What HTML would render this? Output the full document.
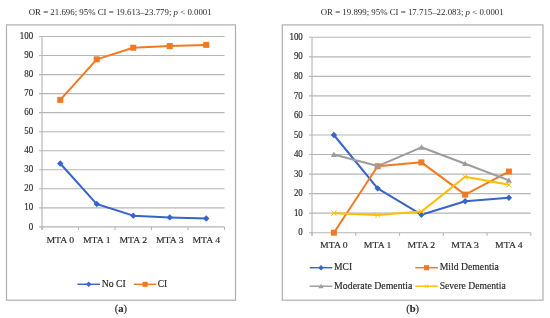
<!DOCTYPE html>
<html><head><meta charset="utf-8"><title>Figure</title>
<style>html,body{margin:0;padding:0;background:#fff;width:550px;height:318px;overflow:hidden}</style>
</head><body>
<svg width="550" height="318" viewBox="0 0 550 318" style="display:block">
<g font-family='"Liberation Serif", serif' fill="#262626" stroke="none">
<style>text{stroke:#262626;stroke-width:0.15px;paint-order:stroke}text.t{stroke:none;fill:#2a2a2a}</style>
<rect x="6.5" y="24.9" width="229" height="275.3" fill="none" stroke="#b0b0b0" stroke-width="1.2"/>
<rect x="282.3" y="24.9" width="260.7" height="275.3" fill="none" stroke="#b0b0b0" stroke-width="1.2"/>
<text class="t" x="120.2" y="15.1" font-size="8.9" text-anchor="middle" textLength="183" lengthAdjust="spacingAndGlyphs">OR = 21.696; 95% CI = 19.613–23.779; <tspan font-style="italic">p</tspan> &lt; 0.0001</text>
<text class="t" x="412.2" y="15.1" font-size="8.9" text-anchor="middle" textLength="183" lengthAdjust="spacingAndGlyphs">OR = 19.899; 95% CI = 17.715–22.083; <tspan font-style="italic">p</tspan> &lt; 0.0001</text>
<line x1="39" y1="226.9" x2="224.5" y2="226.9" stroke="#b6b6b6" stroke-width="1.1"/>
<text x="33.1" y="229.5" font-size="9.3" text-anchor="end" textLength="4.45" lengthAdjust="spacingAndGlyphs" fill="#262626">0</text>
<line x1="39" y1="207.86" x2="224.5" y2="207.86" stroke="#b6b6b6" stroke-width="1.1"/>
<text x="33.1" y="210.46" font-size="9.3" text-anchor="end" textLength="8.9" lengthAdjust="spacingAndGlyphs" fill="#262626">10</text>
<line x1="39" y1="188.82" x2="224.5" y2="188.82" stroke="#b6b6b6" stroke-width="1.1"/>
<text x="33.1" y="191.42" font-size="9.3" text-anchor="end" textLength="8.9" lengthAdjust="spacingAndGlyphs" fill="#262626">20</text>
<line x1="39" y1="169.78" x2="224.5" y2="169.78" stroke="#b6b6b6" stroke-width="1.1"/>
<text x="33.1" y="172.38" font-size="9.3" text-anchor="end" textLength="8.9" lengthAdjust="spacingAndGlyphs" fill="#262626">30</text>
<line x1="39" y1="150.74" x2="224.5" y2="150.74" stroke="#b6b6b6" stroke-width="1.1"/>
<text x="33.1" y="153.34" font-size="9.3" text-anchor="end" textLength="8.9" lengthAdjust="spacingAndGlyphs" fill="#262626">40</text>
<line x1="39" y1="131.7" x2="224.5" y2="131.7" stroke="#b6b6b6" stroke-width="1.1"/>
<text x="33.1" y="134.3" font-size="9.3" text-anchor="end" textLength="8.9" lengthAdjust="spacingAndGlyphs" fill="#262626">50</text>
<line x1="39" y1="112.66" x2="224.5" y2="112.66" stroke="#b6b6b6" stroke-width="1.1"/>
<text x="33.1" y="115.26" font-size="9.3" text-anchor="end" textLength="8.9" lengthAdjust="spacingAndGlyphs" fill="#262626">60</text>
<line x1="39" y1="93.62" x2="224.5" y2="93.62" stroke="#b6b6b6" stroke-width="1.1"/>
<text x="33.1" y="96.22" font-size="9.3" text-anchor="end" textLength="8.9" lengthAdjust="spacingAndGlyphs" fill="#262626">70</text>
<line x1="39" y1="74.58" x2="224.5" y2="74.58" stroke="#b6b6b6" stroke-width="1.1"/>
<text x="33.1" y="77.18" font-size="9.3" text-anchor="end" textLength="8.9" lengthAdjust="spacingAndGlyphs" fill="#262626">80</text>
<line x1="39" y1="55.54" x2="224.5" y2="55.54" stroke="#b6b6b6" stroke-width="1.1"/>
<text x="33.1" y="58.14" font-size="9.3" text-anchor="end" textLength="8.9" lengthAdjust="spacingAndGlyphs" fill="#262626">90</text>
<line x1="39" y1="36.5" x2="224.5" y2="36.5" stroke="#b6b6b6" stroke-width="1.1"/>
<text x="33.1" y="39.1" font-size="9.3" text-anchor="end" textLength="13.35" lengthAdjust="spacingAndGlyphs" fill="#262626">100</text>
<line x1="42" y1="36.5" x2="42" y2="229.9" stroke="#b3b3b3" stroke-width="1.1"/>
<line x1="42" y1="226.9" x2="42" y2="229.9" stroke="#b3b3b3" stroke-width="1.1"/>
<line x1="78.5" y1="226.9" x2="78.5" y2="229.9" stroke="#b3b3b3" stroke-width="1.1"/>
<line x1="115" y1="226.9" x2="115" y2="229.9" stroke="#b3b3b3" stroke-width="1.1"/>
<line x1="151.5" y1="226.9" x2="151.5" y2="229.9" stroke="#b3b3b3" stroke-width="1.1"/>
<line x1="188" y1="226.9" x2="188" y2="229.9" stroke="#b3b3b3" stroke-width="1.1"/>
<line x1="224.5" y1="226.9" x2="224.5" y2="229.9" stroke="#b3b3b3" stroke-width="1.1"/>
<text x="60.25" y="242.6" font-size="9.25" text-anchor="middle" textLength="27.6" lengthAdjust="spacingAndGlyphs" fill="#262626">MTA 0</text>
<text x="96.75" y="242.6" font-size="9.25" text-anchor="middle" textLength="27.6" lengthAdjust="spacingAndGlyphs" fill="#262626">MTA 1</text>
<text x="133.25" y="242.6" font-size="9.25" text-anchor="middle" textLength="27.6" lengthAdjust="spacingAndGlyphs" fill="#262626">MTA 2</text>
<text x="169.75" y="242.6" font-size="9.25" text-anchor="middle" textLength="27.6" lengthAdjust="spacingAndGlyphs" fill="#262626">MTA 3</text>
<text x="206.25" y="242.6" font-size="9.25" text-anchor="middle" textLength="27.6" lengthAdjust="spacingAndGlyphs" fill="#262626">MTA 4</text>
<polyline points="60.25,163.5 96.75,204.05 133.25,215.67 169.75,217.38 206.25,218.52" fill="none" stroke="#3864C8" stroke-width="2" stroke-linejoin="round" stroke-linecap="round"/>
<path d="M60.25 160.3L63.45 163.5L60.25 166.7L57.05 163.5Z" fill="#3864C8"/>
<path d="M96.75 200.85L99.95 204.05L96.75 207.25L93.55 204.05Z" fill="#3864C8"/>
<path d="M133.25 212.47L136.45 215.67L133.25 218.87L130.05 215.67Z" fill="#3864C8"/>
<path d="M169.75 214.18L172.95 217.38L169.75 220.58L166.55 217.38Z" fill="#3864C8"/>
<path d="M206.25 215.32L209.45 218.52L206.25 221.72L203.05 218.52Z" fill="#3864C8"/>
<polyline points="60.25,99.9 96.75,59.35 133.25,47.73 169.75,46.02 206.25,44.88" fill="none" stroke="#F07A22" stroke-width="2" stroke-linejoin="round" stroke-linecap="round"/>
<rect x="57.25" y="96.9" width="6" height="6" fill="#F07A22"/>
<rect x="93.75" y="56.35" width="6" height="6" fill="#F07A22"/>
<rect x="130.25" y="44.73" width="6" height="6" fill="#F07A22"/>
<rect x="166.75" y="43.02" width="6" height="6" fill="#F07A22"/>
<rect x="203.25" y="41.88" width="6" height="6" fill="#F07A22"/>
<line x1="309" y1="232.7" x2="530.8" y2="232.7" stroke="#b6b6b6" stroke-width="1.1"/>
<text x="302.8" y="235.3" font-size="9.3" text-anchor="end" textLength="4.45" lengthAdjust="spacingAndGlyphs" fill="#262626">0</text>
<line x1="309" y1="213.16" x2="530.8" y2="213.16" stroke="#b6b6b6" stroke-width="1.1"/>
<text x="302.8" y="215.76" font-size="9.3" text-anchor="end" textLength="8.9" lengthAdjust="spacingAndGlyphs" fill="#262626">10</text>
<line x1="309" y1="193.62" x2="530.8" y2="193.62" stroke="#b6b6b6" stroke-width="1.1"/>
<text x="302.8" y="196.22" font-size="9.3" text-anchor="end" textLength="8.9" lengthAdjust="spacingAndGlyphs" fill="#262626">20</text>
<line x1="309" y1="174.08" x2="530.8" y2="174.08" stroke="#b6b6b6" stroke-width="1.1"/>
<text x="302.8" y="176.68" font-size="9.3" text-anchor="end" textLength="8.9" lengthAdjust="spacingAndGlyphs" fill="#262626">30</text>
<line x1="309" y1="154.54" x2="530.8" y2="154.54" stroke="#b6b6b6" stroke-width="1.1"/>
<text x="302.8" y="157.14" font-size="9.3" text-anchor="end" textLength="8.9" lengthAdjust="spacingAndGlyphs" fill="#262626">40</text>
<line x1="309" y1="135" x2="530.8" y2="135" stroke="#b6b6b6" stroke-width="1.1"/>
<text x="302.8" y="137.6" font-size="9.3" text-anchor="end" textLength="8.9" lengthAdjust="spacingAndGlyphs" fill="#262626">50</text>
<line x1="309" y1="115.46" x2="530.8" y2="115.46" stroke="#b6b6b6" stroke-width="1.1"/>
<text x="302.8" y="118.06" font-size="9.3" text-anchor="end" textLength="8.9" lengthAdjust="spacingAndGlyphs" fill="#262626">60</text>
<line x1="309" y1="95.92" x2="530.8" y2="95.92" stroke="#b6b6b6" stroke-width="1.1"/>
<text x="302.8" y="98.52" font-size="9.3" text-anchor="end" textLength="8.9" lengthAdjust="spacingAndGlyphs" fill="#262626">70</text>
<line x1="309" y1="76.38" x2="530.8" y2="76.38" stroke="#b6b6b6" stroke-width="1.1"/>
<text x="302.8" y="78.98" font-size="9.3" text-anchor="end" textLength="8.9" lengthAdjust="spacingAndGlyphs" fill="#262626">80</text>
<line x1="309" y1="56.84" x2="530.8" y2="56.84" stroke="#b6b6b6" stroke-width="1.1"/>
<text x="302.8" y="59.44" font-size="9.3" text-anchor="end" textLength="8.9" lengthAdjust="spacingAndGlyphs" fill="#262626">90</text>
<line x1="309" y1="37.3" x2="530.8" y2="37.3" stroke="#b6b6b6" stroke-width="1.1"/>
<text x="302.8" y="39.9" font-size="9.3" text-anchor="end" textLength="13.35" lengthAdjust="spacingAndGlyphs" fill="#262626">100</text>
<line x1="312" y1="37.3" x2="312" y2="235.7" stroke="#b3b3b3" stroke-width="1.1"/>
<line x1="312" y1="232.7" x2="312" y2="235.7" stroke="#b3b3b3" stroke-width="1.1"/>
<line x1="355.76" y1="232.7" x2="355.76" y2="235.7" stroke="#b3b3b3" stroke-width="1.1"/>
<line x1="399.52" y1="232.7" x2="399.52" y2="235.7" stroke="#b3b3b3" stroke-width="1.1"/>
<line x1="443.28" y1="232.7" x2="443.28" y2="235.7" stroke="#b3b3b3" stroke-width="1.1"/>
<line x1="487.04" y1="232.7" x2="487.04" y2="235.7" stroke="#b3b3b3" stroke-width="1.1"/>
<line x1="530.8" y1="232.7" x2="530.8" y2="235.7" stroke="#b3b3b3" stroke-width="1.1"/>
<text x="333.88" y="248.4" font-size="9.25" text-anchor="middle" textLength="27.6" lengthAdjust="spacingAndGlyphs" fill="#262626">MTA 0</text>
<text x="377.64" y="248.4" font-size="9.25" text-anchor="middle" textLength="27.6" lengthAdjust="spacingAndGlyphs" fill="#262626">MTA 1</text>
<text x="421.4" y="248.4" font-size="9.25" text-anchor="middle" textLength="27.6" lengthAdjust="spacingAndGlyphs" fill="#262626">MTA 2</text>
<text x="465.16" y="248.4" font-size="9.25" text-anchor="middle" textLength="27.6" lengthAdjust="spacingAndGlyphs" fill="#262626">MTA 3</text>
<text x="508.92" y="248.4" font-size="9.25" text-anchor="middle" textLength="27.6" lengthAdjust="spacingAndGlyphs" fill="#262626">MTA 4</text>
<polyline points="333.88,135 377.64,188.34 421.4,214.72 465.16,201.24 508.92,197.72" fill="none" stroke="#3864C8" stroke-width="2" stroke-linejoin="round" stroke-linecap="round"/>
<path d="M333.88 131.8L337.08 135L333.88 138.2L330.68 135Z" fill="#3864C8"/>
<path d="M377.64 185.14L380.84 188.34L377.64 191.54L374.44 188.34Z" fill="#3864C8"/>
<path d="M421.4 211.52L424.6 214.72L421.4 217.92L418.2 214.72Z" fill="#3864C8"/>
<path d="M465.16 198.04L468.36 201.24L465.16 204.44L461.96 201.24Z" fill="#3864C8"/>
<path d="M508.92 194.52L512.12 197.72L508.92 200.92L505.72 197.72Z" fill="#3864C8"/>
<polyline points="333.88,232.7 377.64,166.26 421.4,162.36 465.16,194.6 508.92,171.54" fill="none" stroke="#F07A22" stroke-width="2" stroke-linejoin="round" stroke-linecap="round"/>
<rect x="330.88" y="229.7" width="6" height="6" fill="#F07A22"/>
<rect x="374.64" y="163.26" width="6" height="6" fill="#F07A22"/>
<rect x="418.4" y="159.36" width="6" height="6" fill="#F07A22"/>
<rect x="462.16" y="191.6" width="6" height="6" fill="#F07A22"/>
<rect x="505.92" y="168.54" width="6" height="6" fill="#F07A22"/>
<polyline points="333.88,154.54 377.64,166.07 421.4,147.31 465.16,163.72 508.92,180.33" fill="none" stroke="#9C9C9C" stroke-width="2" stroke-linejoin="round" stroke-linecap="round"/>
<path d="M333.88 151.54L336.88 156.94L330.88 156.94Z" fill="#9C9C9C"/>
<path d="M377.64 163.07L380.64 168.47L374.64 168.47Z" fill="#9C9C9C"/>
<path d="M421.4 144.31L424.4 149.71L418.4 149.71Z" fill="#9C9C9C"/>
<path d="M465.16 160.72L468.16 166.12L462.16 166.12Z" fill="#9C9C9C"/>
<path d="M508.92 177.33L511.92 182.73L505.92 182.73Z" fill="#9C9C9C"/>
<polyline points="333.88,213.16 377.64,215.11 421.4,211.6 465.16,176.82 508.92,184.83" fill="none" stroke="#FFBE00" stroke-width="2" stroke-linejoin="round" stroke-linecap="round"/>
<path d="M331.28 210.56L336.48 215.76M331.28 215.76L336.48 210.56" stroke="#FFBE00" stroke-width="1" fill="none"/>
<path d="M375.04 212.51L380.24 217.71M375.04 217.71L380.24 212.51" stroke="#FFBE00" stroke-width="1" fill="none"/>
<path d="M418.8 209L424 214.2M418.8 214.2L424 209" stroke="#FFBE00" stroke-width="1" fill="none"/>
<path d="M462.56 174.22L467.76 179.42M462.56 179.42L467.76 174.22" stroke="#FFBE00" stroke-width="1" fill="none"/>
<path d="M506.32 182.23L511.52 187.43M506.32 187.43L511.52 182.23" stroke="#FFBE00" stroke-width="1" fill="none"/>
<line x1="77.4" y1="284.3" x2="100" y2="284.3" stroke="#3864C8" stroke-width="1.45"/>
<path d="M88.7 281.58L91.42 284.3L88.7 287.02L85.98 284.3Z" fill="#3864C8"/>
<text x="101.7" y="286.95" font-size="9.5" text-anchor="start" textLength="24.2" lengthAdjust="spacingAndGlyphs">No CI</text>
<line x1="133.8" y1="284.3" x2="156.4" y2="284.3" stroke="#F07A22" stroke-width="1.45"/>
<rect x="142.55" y="281.75" width="5.1" height="5.1" fill="#F07A22"/>
<text x="157.7" y="286.95" font-size="9.5" text-anchor="start" textLength="9.4" lengthAdjust="spacingAndGlyphs">CI</text>
<line x1="309.7" y1="267.7" x2="332.3" y2="267.7" stroke="#3864C8" stroke-width="1.45"/>
<path d="M321 264.98L323.72 267.7L321 270.42L318.28 267.7Z" fill="#3864C8"/>
<text x="334.1" y="270.35" font-size="9.5" text-anchor="start" textLength="18" lengthAdjust="spacingAndGlyphs">MCI</text>
<line x1="415.3" y1="267.7" x2="437.9" y2="267.7" stroke="#F07A22" stroke-width="1.45"/>
<rect x="424.05" y="265.15" width="5.1" height="5.1" fill="#F07A22"/>
<text x="439.7" y="270.35" font-size="9.5" text-anchor="start" textLength="59" lengthAdjust="spacingAndGlyphs">Mild Dementia</text>
<line x1="309.7" y1="286.2" x2="332.3" y2="286.2" stroke="#9C9C9C" stroke-width="1.45"/>
<path d="M321 283.65L323.55 288.24L318.45 288.24Z" fill="#9C9C9C"/>
<text x="334.1" y="288.85" font-size="9.5" text-anchor="start" textLength="78.3" lengthAdjust="spacingAndGlyphs">Moderate Dementia</text>
<line x1="415.3" y1="286.2" x2="437.9" y2="286.2" stroke="#FFBE00" stroke-width="1.45"/>
<path d="M424.91 284.51L428.29 287.89M424.91 287.89L428.29 284.51" stroke="#FFBE00" stroke-width="1" fill="none"/>
<text x="439.7" y="288.85" font-size="9.5" text-anchor="start" textLength="66" lengthAdjust="spacingAndGlyphs">Severe Dementia</text>
<text x="120.8" y="312.3" font-size="10.5" text-anchor="middle">(<tspan font-weight="bold">a</tspan>)</text>
<text x="412.7" y="312.3" font-size="10.5" text-anchor="middle">(<tspan font-weight="bold">b</tspan>)</text>
</g></svg>
</body></html>
